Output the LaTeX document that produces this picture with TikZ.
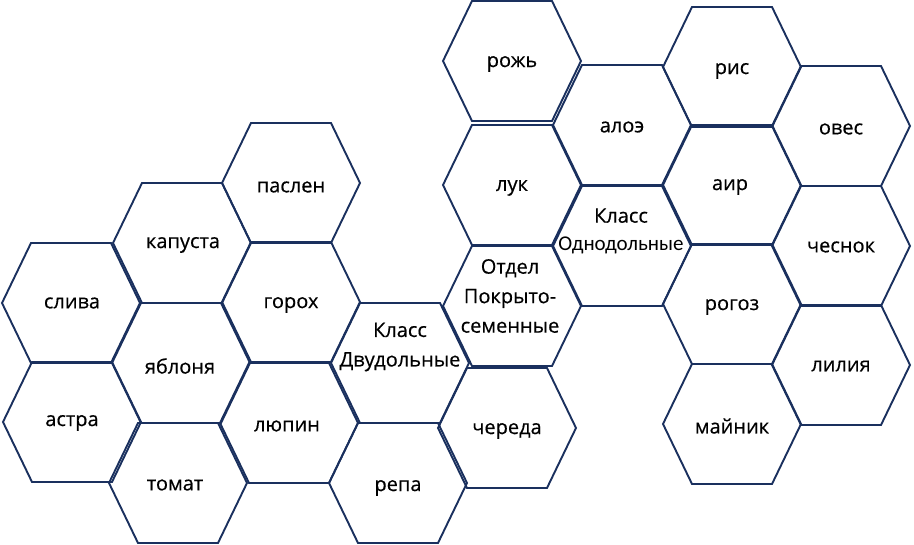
\documentclass[tikz,border=0pt]{standalone}
\usepackage{fontspec}
\setmainfont[FakeBold=0.4]{Open Sans}
\newfontfamily\calibrifont{Carlito}
\definecolor{hexcol}{RGB}{26,48,94}
\tikzset{
  hexline/.style={draw=hexcol,line width=1.9bp,line join=miter},
  hexcell/.pic={\draw [hexline] (-69bp,0bp) -- (-40bp,-60bp) -- (40bp,-60bp) -- (69bp,0bp) -- (40bp,60bp) -- (-40bp,60bp) -- cycle;},
  plant/.style={font=\fontsize{20bp}{29.5bp}\selectfont,align=center,inner sep=0pt},
}
\begin{document}
\begin{tikzpicture}
  \useasboundingbox (0bp,0bp) rectangle (914bp,545bp);
  \fill [white] (0bp,0bp) rectangle (914bp,545bp);
%%
  % Class: Dvudolnye
  \pic at (71bp,242bp) {hexcell};
  \node [plant] (sliva) at (72bp,242bp) {слива};
  \pic at (72bp,123bp) {hexcell};
  \node [plant] (astra) at (72bp,122bp) {астра};
  \pic at (182bp,302bp) {hexcell};
  \node [plant] (kapusta) at (183bp,300bp) {капуста};
  \pic at (181bp,182bp) {hexcell};
  \node [plant] (yablonya) at (180bp,179bp) {яблоня};
  \pic at (178bp,62bp) {hexcell};
  \node [plant] (tomat) at (175bp,60bp) {томат};
  \pic at (291bp,362bp) {hexcell};
  \node [plant] (paslen) at (291bp,358bp) {паслен};
  \pic at (291bp,243bp) {hexcell};
  \node [plant] (goroh) at (291bp,240bp) {горох};
  \pic at (289bp,122bp) {hexcell};
  \node [plant] (lyupin) at (287bp,119bp) {люпин};
  \pic at (398bp,62bp) {hexcell};
  \node [plant] (repa) at (398bp,57bp) {репа};
  \pic at (400bp,182bp) {hexcell};
  \node [plant] (dvudol) at (400bp,198bp) {Класс\\Двудольные};
  % Class: Odnodolnye
  \pic at (512bp,484bp) {hexcell};
  \node [plant] (rozh) at (512bp,481bp) {рожь};
  \pic at (512bp,360bp) {hexcell};
  \node [plant] (luk) at (512bp,357bp) {лук};
  \pic at (507bp,117bp) {hexcell};
  \node [plant] (chereda) at (507bp,114bp) {череда};
  \pic at (622bp,420bp) {hexcell};
  \node [plant] (aloe) at (622bp,418bp) {алоэ};
  \pic at (732bp,478bp) {hexcell};
  \node [plant] (ris) at (732bp,474bp) {рис};
  \pic at (732bp,360bp) {hexcell};
  \node [plant] (air) at (730bp,358bp) {аир};
  \pic at (732bp,241bp) {hexcell};
  \node [plant] (rogoz) at (732bp,238bp) {рогоз};
  \pic at (732bp,121bp) {hexcell};
  \node [plant] (maynik) at (732bp,119bp) {майник};
  \pic at (841bp,419bp) {hexcell};
  \node [plant] (oves) at (841bp,416bp) {овес};
  \pic at (841bp,299bp) {hexcell};
  \node [plant] (chesnok) at (841bp,298bp) {чеснок};
  \pic at (841bp,180bp) {hexcell};
  \node [plant] (liliya) at (841bp,179bp) {лилия};
  % Node: Odnodolnye
  \pic at (622bp,299bp) {hexcell};
  \node [plant] (odnodol) at (621bp,314bp) {Класс\\[-2bp]{\calibrifont\fontsize{21bp}{24bp}\selectfont Однодольные}};
  % Node: Otdel
  \pic at (512bp,239bp) {hexcell};
  \node [plant] (otdel) at (510bp,249bp) {Отдел\\Покрыто-\\семенные};
%
\end{tikzpicture}
\end{document}
